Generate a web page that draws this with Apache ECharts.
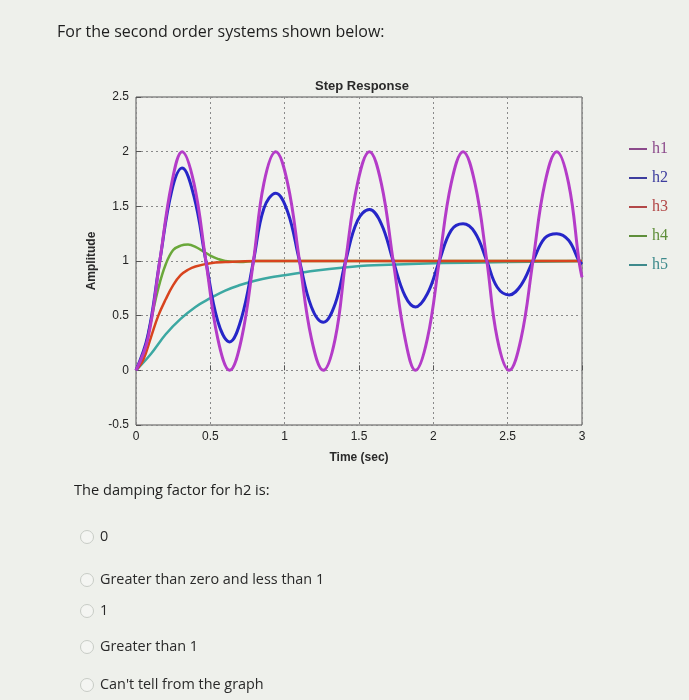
<!DOCTYPE html>
<html>
<head>
<meta charset="utf-8">
<script src="https://cdn.jsdelivr.net/npm/echarts@6/dist/echarts.min.js"></script>
<style>
  html, body { margin: 0; padding: 0; background: #eef0eb; }
  #chart { width: 689px; height: 700px; }
</style>
</head>
<body>
<div id="chart"></div>
<script>
// time samples for the oscillating responses
const tOsc = [0, 0.08, 0.16, 0.24, 0.31, 0.39, 0.47, 0.55, 0.63, 0.71, 0.79, 0.86, 0.94, 1.02,
  1.10, 1.18, 1.26, 1.34, 1.41, 1.49, 1.57, 1.65, 1.73, 1.81, 1.88, 1.96, 2.04, 2.12, 2.20,
  2.28, 2.36, 2.43, 2.51, 2.59, 2.67, 2.75, 2.83, 2.91, 2.98, 3.0];
const h1 = [0, 0.29, 1, 1.71, 2, 1.71, 1, 0.29, 0, 0.29, 1, 1.71, 2, 1.71,
  1, 0.29, 0, 0.29, 1, 1.71, 2, 1.71, 1, 0.29, 0, 0.29, 1, 1.71, 2,
  1.71, 1, 0.29, 0, 0.29, 1, 1.71, 2, 1.71, 1, 0.85];
const h2 = [0, 0.32, 1, 1.64, 1.85, 1.59, 1, 0.45, 0.26, 0.48, 1, 1.48, 1.62, 1.45,
  1, 0.58, 0.44, 0.61, 1, 1.37, 1.47, 1.34, 1, 0.68, 0.58, 0.70, 1, 1.28, 1.34,
  1.26, 1, 0.76, 0.69, 0.78, 1, 1.21, 1.25, 1.19, 1, 0.97];

const tH3 = [0, 0.05, 0.1, 0.15, 0.2, 0.25, 0.3, 0.35, 0.4, 0.5, 0.6, 0.8, 1.5, 3.0];
const h3 = [0, 0.1, 0.3, 0.5, 0.65, 0.78, 0.87, 0.92, 0.95, 0.98, 0.99, 1, 1, 1];

const tH4 = [0, 0.05, 0.1, 0.15, 0.2, 0.25, 0.3, 0.35, 0.4, 0.45, 0.5, 0.55, 0.6, 0.7, 0.8, 1.5, 3.0];
const h4 = [0, 0.15, 0.45, 0.75, 0.97, 1.1, 1.14, 1.15, 1.13, 1.09, 1.05, 1.02, 1.0, 0.99, 1, 1, 1];

const tH5 = [0, 0.1, 0.2, 0.3, 0.4, 0.5, 0.6, 0.7, 0.8, 0.9, 1.0, 1.2, 1.4, 1.6, 2.0, 2.5, 3.0];
const h5 = [0, 0.15, 0.33, 0.47, 0.58, 0.66, 0.73, 0.78, 0.82, 0.85, 0.87, 0.91, 0.94, 0.96, 0.98, 0.99, 1];

const names = ['h1', 'h2', 'h3', 'h4', 'h5'];
const lineColors = ['#b43cc8', '#2626c8', '#d8441e', '#6aa83a', '#3ca8a2'];
const legendColors = ['#8b4a8b', '#3d3d9e', '#b24848', '#5e8e3a', '#3e8a8c'];

const question = 'The damping factor for h2 is:';
const choices = ['0', 'Greater than zero and less than 1', '1', 'Greater than 1', "Can't tell from the graph"];
const choiceY = [537, 580, 611, 647, 685];

const pair = (t, y) => t.map((v, i) => [v, y[i]]);
const seriesData = [pair(tOsc, h1), pair(tOsc, h2), pair(tH3, h3), pair(tH4, h4), pair(tH5, h5)];
const zOrder = [6, 5, 4, 3, 2];

const chart = echarts.init(document.getElementById('chart'));

const gridLine = { show: true, lineStyle: { color: '#8a8a8a', type: [2, 3], width: 1 } };
const tickFont = { color: '#222', fontSize: 12, fontFamily: 'Liberation Sans' };

const graphics = [
  {
    type: 'text', left: 57, top: 24,
    style: { text: 'For the second order systems shown below:', fontSize: 16, fontFamily: 'Open Sans', fill: '#1e1e1e' }
  },
  {
    type: 'text', x: 362, y: 86,
    style: { text: 'Step Response', fontSize: 13, fontWeight: 'bold', fontFamily: 'Liberation Sans', fill: '#2a2a2a', align: 'center', verticalAlign: 'middle' }
  },
  {
    type: 'text', left: 74, top: 483,
    style: { text: question, fontSize: 14.6, fontFamily: 'Open Sans', fill: '#1e1e1e' }
  }
];
choices.forEach((c, i) => {
  graphics.push({
    type: 'circle', shape: { cx: 87, cy: choiceY[i], r: 6.5 },
    style: { fill: '#f4f5f2', stroke: '#c8ccc6', lineWidth: 1 }
  });
  graphics.push({
    type: 'text', x: 100, y: choiceY[i],
    style: { text: c, fontSize: 14.4, fontFamily: 'Open Sans', fill: '#2a2a2a', verticalAlign: 'middle' }
  });
});

chart.setOption({
  backgroundColor: '#eef0eb',
  animation: false,
  grid: {
    left: 136, right: 107, top: 97, bottom: 275,
    show: true, borderColor: '#555', borderWidth: 1, backgroundColor: '#f1f2ee'
  },
  legend: {
    orient: 'vertical', left: 624, top: 136, itemGap: 13,
    icon: 'rect', itemWidth: 18, itemHeight: 2,
    data: names.map((n, i) => ({
      name: n,
      itemStyle: { color: legendColors[i] },
      textStyle: { color: legendColors[i], fontSize: 16, fontFamily: 'Liberation Serif' }
    }))
  },
  xAxis: {
    type: 'value', min: 0, max: 3, interval: 0.5,
    name: 'Time (sec)', nameLocation: 'middle', nameGap: 27,
    nameTextStyle: { fontSize: 12, fontWeight: 'bold', fontFamily: 'Liberation Sans', color: '#2a2a2a' },
    axisLine: { show: false },
    axisTick: { inside: true, length: 5, lineStyle: { color: '#555' } },
    axisLabel: Object.assign({ margin: 6 }, tickFont),
    splitLine: gridLine
  },
  yAxis: {
    type: 'value', min: -0.5, max: 2.5, interval: 0.5,
    name: 'Amplitude', nameLocation: 'middle', nameGap: 38,
    nameTextStyle: { fontSize: 12, fontWeight: 'bold', fontFamily: 'Liberation Sans', color: '#2a2a2a' },
    axisLine: { show: false },
    axisTick: { show: true, inside: true, length: 5, lineStyle: { color: '#555' } },
    axisLabel: Object.assign({ margin: 7 }, tickFont),
    splitLine: gridLine
  },
  graphic: graphics,
  series: names.map((n, i) => ({
    name: n,
    type: 'line',
    data: seriesData[i],
    smooth: 0.4,
    showSymbol: false,
    z: zOrder[i],
    lineStyle: { color: lineColors[i], width: i < 2 ? 3 : 2.5 },
    itemStyle: { color: lineColors[i] }
  }))
});
</script>
</body>
</html>
